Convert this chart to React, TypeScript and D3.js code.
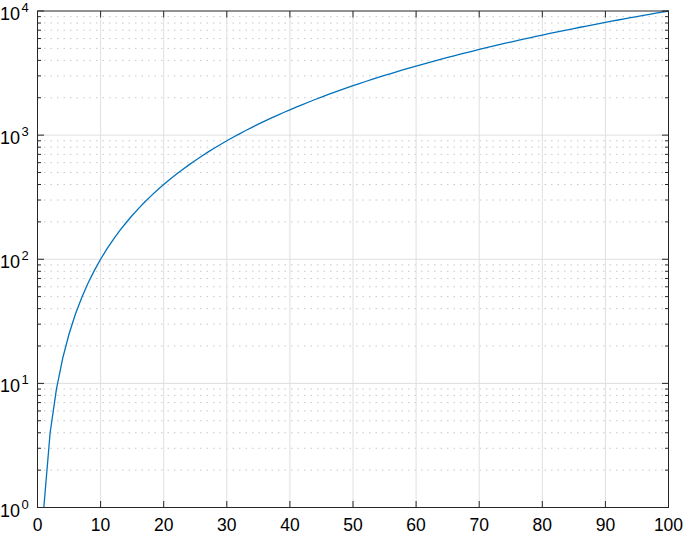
import * as React from 'react';
import * as d3 from 'd3';

// x = 1..100 and y values
const xValues: number[] = [
  1, 2, 3, 4, 5, 6, 7, 8, 9, 10, 11, 12, 13, 14, 15, 16, 17, 18, 19, 20,
  21, 22, 23, 24, 25, 26, 27, 28, 29, 30, 31, 32, 33, 34, 35, 36, 37, 38, 39, 40,
  41, 42, 43, 44, 45, 46, 47, 48, 49, 50, 51, 52, 53, 54, 55, 56, 57, 58, 59, 60,
  61, 62, 63, 64, 65, 66, 67, 68, 69, 70, 71, 72, 73, 74, 75, 76, 77, 78, 79, 80,
  81, 82, 83, 84, 85, 86, 87, 88, 89, 90, 91, 92, 93, 94, 95, 96, 97, 98, 99, 100,
];
const yValues: number[] = [
  1, 4, 9, 16, 25, 36, 49, 64, 81, 100, 121, 144, 169, 196, 225, 256, 289, 324, 361, 400,
  441, 484, 529, 576, 625, 676, 729, 784, 841, 900, 961, 1024, 1089, 1156, 1225, 1296, 1369, 1444, 1521, 1600,
  1681, 1764, 1849, 1936, 2025, 2116, 2209, 2304, 2401, 2500, 2601, 2704, 2809, 2916, 3025, 3136, 3249, 3364, 3481, 3600,
  3721, 3844, 3969, 4096, 4225, 4356, 4489, 4624, 4761, 4900, 5041, 5184, 5329, 5476, 5625, 5776, 5929, 6084, 6241, 6400,
  6561, 6724, 6889, 7056, 7225, 7396, 7569, 7744, 7921, 8100, 8281, 8464, 8649, 8836, 9025, 9216, 9409, 9604, 9801, 10000,
];
const xTicks: number[] = [0, 10, 20, 30, 40, 50, 60, 70, 80, 90, 100];
const yExponents: number[] = [0, 1, 2, 3, 4];

const width = 685;
const height = 535;
const left = 37.5;
const right = 668.5;
const top = 11;
const bottom = 507.5;

const font = '"Liberation Sans", Arial, Helvetica, sans-serif';

export default function App() {
  const x = d3.scaleLinear().domain([0, 100]).range([left, right]);
  const y = d3.scaleLog().domain([1, 10000]).range([bottom, top]);

  const majorY = yExponents.map(e => Math.pow(10, e));
  const minorY: number[] = [];
  yExponents.slice(0, -1).forEach(e => {
    for (let m = 2; m <= 9; m++) minorY.push(m * Math.pow(10, e));
  });

  const line = d3.line<number>()
    .x((_, i) => x(xValues[i]))
    .y(d => y(d));

  const axisColor = '#262626';
  const gridColor = '#dfdfdf';

  return (
    <svg width={width} height={height}
      style={{ position: 'absolute', left: 0, top: 0, background: '#fff' }}>
      <rect x={0} y={0} width={width} height={height} fill="#fff" />
      {/* minor grid */}
      {minorY.map(v => (
        <line key={'mg' + v} x1={left} x2={right} y1={y(v)} y2={y(v)}
          stroke="#c8c8c8" strokeWidth={1} strokeDasharray="1.5,5" />
      ))}
      {/* major grid */}
      {xTicks.slice(1, -1).map(v => (
        <line key={'gx' + v} x1={x(v)} x2={x(v)} y1={top} y2={bottom}
          stroke={gridColor} strokeWidth={1} />
      ))}
      {majorY.slice(1, -1).map(v => (
        <line key={'gy' + v} x1={left} x2={right} y1={y(v)} y2={y(v)}
          stroke={gridColor} strokeWidth={1} />
      ))}

      <path d={line(yValues) || ''} fill="none" stroke="#0072BD" strokeWidth={1.3} />

      {/* ticks */}
      <g stroke={axisColor} strokeWidth={1}>
        {xTicks.map(v => (
          <g key={'tx' + v}>
            <line x1={x(v)} x2={x(v)} y1={bottom} y2={bottom - 6.5} />
            <line x1={x(v)} x2={x(v)} y1={top} y2={top + 6.5} />
          </g>
        ))}
        {majorY.map(v => (
          <g key={'ty' + v}>
            <line x1={left} x2={left + 6.5} y1={y(v)} y2={y(v)} />
            <line x1={right} x2={right - 6.5} y1={y(v)} y2={y(v)} />
          </g>
        ))}
        {minorY.map(v => (
          <g key={'tm' + v}>
            <line x1={left} x2={left + 3.5} y1={y(v)} y2={y(v)} />
            <line x1={right} x2={right - 3.5} y1={y(v)} y2={y(v)} />
          </g>
        ))}
      </g>
      <rect x={left} y={top} width={right - left} height={bottom - top}
        fill="none" stroke={axisColor} strokeWidth={1} />

      {/* labels */}
      <g fontFamily={font} fill="#000">
        {xTicks.map(v => (
          <text key={'lx' + v} x={x(v)} y={531} fontSize={17.5} textAnchor="middle">{v}</text>
        ))}
        {yExponents.map(e => (
          <text key={'ly' + e} x={0} y={y(Math.pow(10, e)) + 9} fontSize={18}>
            10<tspan fontSize={13} dx={1.5} dy={-8}>{e}</tspan>
          </text>
        ))}
      </g>
    </svg>
  );
}
